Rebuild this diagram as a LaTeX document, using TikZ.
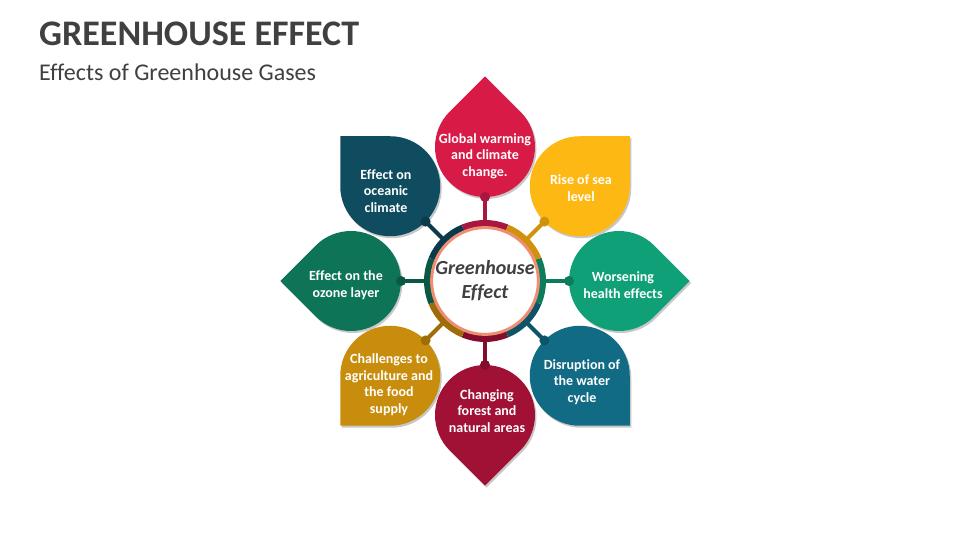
\documentclass[tikz,border=0pt]{standalone}
\usepackage{fontspec}
\setmainfont{Carlito}[Ligatures=NoCommon]
\usetikzlibrary{calc,shadows}
\definecolor{titlegray}{HTML}{404040}
\definecolor{salmon}{HTML}{EE8F73}
\definecolor{fa}{HTML}{D81A47}\definecolor{sa}{HTML}{A8173F}
\definecolor{fb}{HTML}{FDB813}\definecolor{sb}{HTML}{D1920B}
\definecolor{fc}{HTML}{10A078}\definecolor{sc}{HTML}{0D7C5C}
\definecolor{fd}{HTML}{126B85}\definecolor{sd}{HTML}{0E5468}
\definecolor{fe}{HTML}{A11135}\definecolor{se}{HTML}{820D2C}
\definecolor{ff}{HTML}{C98D0D}\definecolor{sf}{HTML}{9E6D08}
\definecolor{fg}{HTML}{0E7457}\definecolor{sg}{HTML}{0A5843}
\definecolor{fh}{HTML}{0F4C60}\definecolor{sh}{HTML}{0B3A4A}
\tikzset{
  stemline/.style={line width=4pt, line cap=butt},
  ringseg/.style={line width=7pt, line cap=butt},
  petalshadow/.style={drop shadow={shadow xshift=1.5pt, shadow yshift=-2pt, opacity=0.22, fill=black}},
  petaltext/.style={text=white, align=center, inner sep=0pt, font=\fontsize{14}{16.5}\selectfont\bfseries},
}
\newcommand\mypetal[4]{%
  \coordinate (#1) at ($(C)+(#2:134pt)$);
  \coordinate (#1k) at ($(C)+(#2:84pt)$);
  \coordinate (#1r) at ($(C)+(#2:60pt)$);
  \draw[stemline, #4] (#1r) -- (#1k);
  \fill[#3, petalshadow] ($(#1)+(#2:70.71pt)$) -- ($(#1)+(#2+45:50pt)$) arc[start angle=#2+45, delta angle=270, radius=50pt] -- cycle;
  \fill[#4] (#1k) circle[radius=5pt];
}
\begin{document}
\begin{tikzpicture}[x=1pt,y=1pt]
\useasboundingbox (0,0) rectangle (960,540);
\fill[white] (0,0) rectangle (960,540);
\node[anchor=base west, inner sep=0, text=titlegray, font=\fontsize{36}{43}\selectfont\bfseries] (title) at (39,494.5) {GREENHOUSE EFFECT};
\node[anchor=base west, inner sep=0, text=titlegray, font=\fontsize{24}{29}\selectfont] (subtitle) at (39,459.5) {Effects of Greenhouse Gases};
\coordinate (C) at (485,259);
% ring segments
\foreach \a/\c in {90/sa,45/sb,0/sc,-45/sd,-90/se,-135/sf,180/sg,135/sh}{
  \draw[ringseg, \c] ($(C)+(\a+22.5:57.5pt)$) arc[start angle=\a+22.5, delta angle=-45, radius=57.5pt];
}
\mypetal{pa}{90}{fa}{sa}
\mypetal{pb}{45}{fb}{sb}
\mypetal{pc}{0}{fc}{sc}
\mypetal{pd}{-45}{fd}{sd}
\mypetal{pe}{-90}{fe}{se}
\mypetal{pf}{-135}{ff}{sf}
\mypetal{pg}{180}{fg}{sg}
\mypetal{ph}{135}{fh}{sh}
\node[circle, draw=salmon, line width=3pt, fill=white, minimum size=105pt, inner sep=0pt, align=center, text=titlegray, font=\fontsize{20}{24}\selectfont\bfseries\itshape] (ctr) at (C) {Greenhouse\\Effect};
\node[petaltext] (ta) at (485,384) {Global warming\\and climate\\change.};
\node[petaltext] (tb) at (581,352) {Rise of sea\\level};
\node[petaltext] (tc) at (623,255) {Worsening\\health effects};
\node[petaltext] (td) at (582,158) {Disruption of\\the water\\cycle};
\node[petaltext] (te) at (487,129) {Changing\\forest and\\natural areas};
\node[petaltext] (tf) at (389,155.5) {Challenges to\\agriculture and\\the food\\supply};
\node[petaltext] (tg) at (346,255) {Effect on the\\ozone layer};
\node[petaltext] (th) at (386,349) {Effect on\\oceanic\\climate};
\end{tikzpicture}
\end{document}
